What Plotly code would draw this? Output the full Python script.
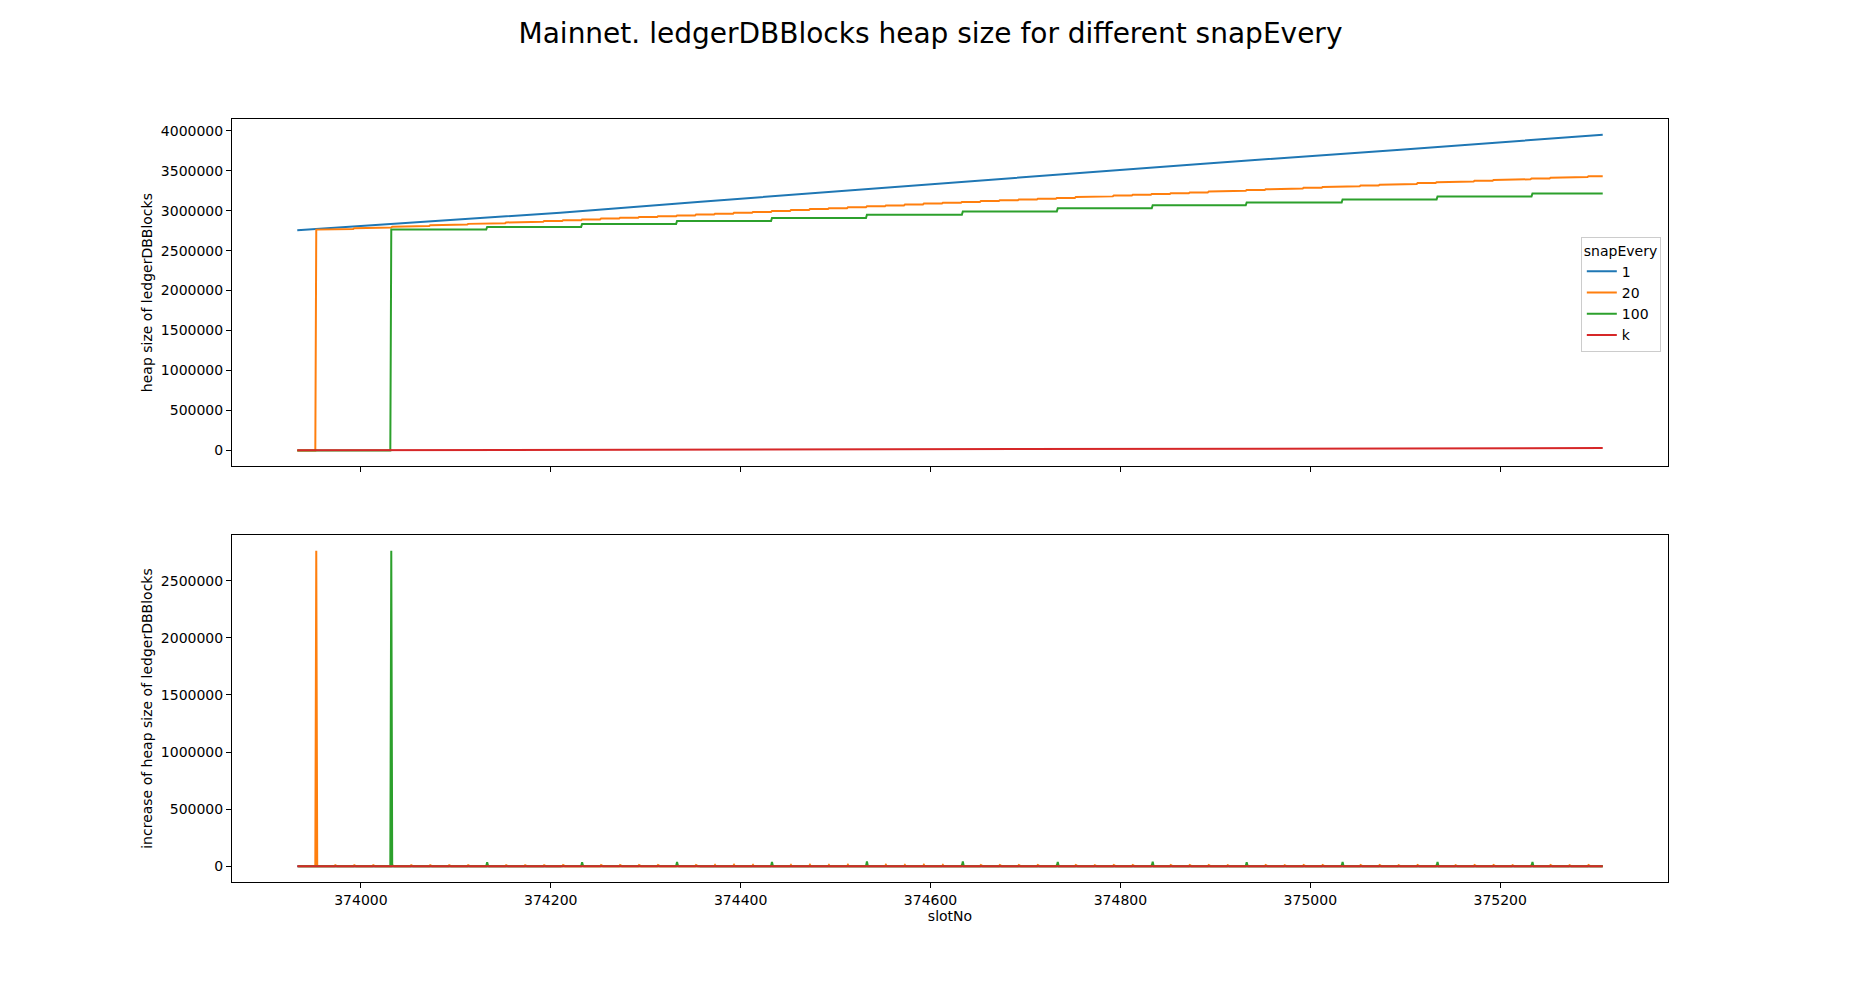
import numpy as np
import plotly.graph_objects as go

# ---------------- data ----------------
slot_first = 373933
slot_last = 375308

# snapEvery = 1 : heap size at sampled slots
blue_slots = [373933, 374000, 374147, 374210, 374358, 374632, 374884, 375095, 375308]
blue_heap = [2754000, 2809000, 2929000, 2975000, 3112500, 3358000, 3585000, 3762500, 3950000]

# snapEvery = 20 : slots where a new level starts and the level reached
orange_step_slots = [
    373953, 373973, 373993, 374013, 374033, 374053, 374073, 374093, 374113, 374133,
    374153, 374173, 374193, 374213, 374233, 374253, 374273, 374293, 374313, 374333,
    374353, 374373, 374393, 374413, 374433, 374453, 374473, 374493, 374513, 374533,
    374553, 374573, 374593, 374613, 374633, 374653, 374673, 374693, 374713, 374733,
    374753, 374773, 374793, 374813, 374833, 374853, 374873, 374893, 374913, 374933,
    374953, 374973, 374993, 375013, 375033, 375053, 375073, 375093, 375113, 375133,
    375153, 375173, 375193, 375213, 375233, 375253, 375273, 375293]
orange_levels = [
    2763000, 2772000, 2781000, 2790000, 2799000, 2808000, 2817000, 2826000, 2835000, 2844000,
    2853000, 2862000, 2871000, 2881000, 2891000, 2901000, 2911000, 2921000, 2931000, 2941000,
    2951000, 2962000, 2974000, 2985000, 2997000, 3008000, 3020000, 3031000, 3043000, 3054000,
    3066000, 3077000, 3089000, 3100000, 3110000, 3120000, 3130000, 3140000, 3150000, 3160000,
    3170000, 3179000, 3189000, 3199000, 3209000, 3219000, 3229000, 3239000, 3248000, 3258000,
    3268000, 3277000, 3287000, 3297000, 3306000, 3316000, 3326000, 3335000, 3345000, 3355000,
    3364000, 3374000, 3384000, 3393000, 3403000, 3413000, 3422000, 3432000]

# snapEvery = 100
green_step_slots = [374032, 374133, 374233, 374333, 374433, 374533, 374634,
                    374734, 374834, 374933, 375034, 375134, 375234]
green_levels = [2763000, 2797000, 2833000, 2871000, 2908000, 2950000, 2991000,
                3029000, 3068000, 3104000, 3141000, 3179000, 3216000]

# snapEvery = k
red_slots = [373933, 375308]
red_heap = [1000, 29000]

series_names = ["1", "20", "100", "k"]
series_colors = ["#1f77b4", "#ff7f0e", "#2ca02c", "#d62728"]
x_ticks = [374000, 374200, 374400, 374600, 374800, 375000, 375200]
y_ticks_top = [0, 500000, 1000000, 1500000, 2000000, 2500000, 3000000, 3500000, 4000000]
y_ticks_bottom = [0, 500000, 1000000, 1500000, 2000000, 2500000]

# ---------------- derived series ----------------
slots = np.arange(slot_first, slot_last + 1)


def held(step_slots, levels):
    idx = np.searchsorted(np.array(step_slots), slots, side="right") - 1
    vals = np.where(idx >= 0, np.array(levels)[np.clip(idx, 0, None)], 0)
    return vals


orange_full = held(orange_step_slots, orange_levels)
green_full = held(green_step_slots, green_levels)
orange_diff = np.diff(orange_full)
green_diff = np.diff(green_full)

blue_rate = list(np.diff(blue_heap) / np.diff(blue_slots))
blue_rate_x = blue_slots
blue_rate_y = blue_rate + [blue_rate[-1]]
red_rate = list(np.diff(red_heap) / np.diff(red_slots))
red_rate_x = red_slots
red_rate_y = red_rate + [red_rate[-1]]

# ---------------- figure ----------------
FONT = "DejaVu Sans"
fig = go.Figure()
LW = 2

top_x = [blue_slots, slots, slots, red_slots]
top_y = [blue_heap, orange_full, green_full, red_heap]
for name, col, xs, ys in zip(series_names, series_colors, top_x, top_y):
    fig.add_trace(go.Scatter(x=xs, y=ys, mode="lines", name=name,
                             line=dict(color=col, width=LW),
                             xaxis="x", yaxis="y", legendgroup=name))

bot_x = [blue_rate_x, slots[1:], slots[1:], red_rate_x]
bot_y = [blue_rate_y, orange_diff, green_diff, red_rate_y]
bot_shape = ["hv", "linear", "linear", "hv"]
for name, col, xs, ys, sh in zip(series_names, series_colors, bot_x, bot_y, bot_shape):
    fig.add_trace(go.Scatter(x=xs, y=ys, mode="lines", name=name, showlegend=False,
                             line=dict(color=col, width=LW, shape=sh),
                             xaxis="x2", yaxis="y2", legendgroup=name))

xpad = 0.05 * (slot_last - slot_first)
xr = [slot_first - xpad, slot_last + xpad]
top_max = max(blue_heap)
bot_max = max(orange_diff.max(), green_diff.max())

axis_common = dict(showline=True, mirror=True, linecolor="black", linewidth=1,
                   ticks="outside", ticklen=5, tickwidth=1, tickcolor="black",
                   showgrid=False, zeroline=False,
                   tickfont=dict(family=FONT, size=14, color="black"))

W, H = 1845, 983
fig.update_layout(
    width=W, height=H,
    paper_bgcolor="white", plot_bgcolor="white",
    font=dict(family=FONT, size=14, color="black"),
    margin=dict(l=224, r=185, t=111, b=109),
    title=dict(text="Mainnet. ledgerDBBlocks heap size for different snapEvery",
               x=0.5, xanchor="center", y=1 - 25 / H, yanchor="middle",
               font=dict(family=FONT, size=28, color="black")),
    xaxis=dict(axis_common, domain=[0, 1], anchor="y", range=xr,
               tickvals=x_ticks, showticklabels=False, matches="x2"),
    xaxis2=dict(axis_common, domain=[0, 1], anchor="y2", range=xr,
                tickvals=x_ticks, tickformat="d",
                title=dict(text="slotNo", standoff=4,
                           font=dict(family=FONT, size=14, color="black"))),
    yaxis=dict(axis_common, domain=[0.545, 1.0], anchor="x",
               range=[-0.05 * top_max, 1.05 * top_max],
               tickvals=y_ticks_top, tickformat="d",
               title=dict(text="heap size of ledgerDBBlocks", standoff=4,
                          font=dict(family=FONT, size=14, color="black"))),
    yaxis2=dict(axis_common, domain=[0, 0.4548], anchor="x2",
                range=[-0.05 * bot_max, 1.05 * bot_max],
                tickvals=y_ticks_bottom, tickformat="d",
                title=dict(text="increase of heap size of ledgerDBBlocks", standoff=4,
                           font=dict(family=FONT, size=14, color="black"))),
    legend=dict(x=0.995, y=0.846, xanchor="right", yanchor="top",
                bgcolor="rgba(255,255,255,0.8)", bordercolor="#cccccc", borderwidth=1,
                title=dict(text="snapEvery", side="top",
                           font=dict(family=FONT, size=14, color="black")),
                font=dict(family=FONT, size=14, color="black"),
                tracegroupgap=0, itemwidth=30),
    showlegend=True,
)

fig.write_html("out.html")
